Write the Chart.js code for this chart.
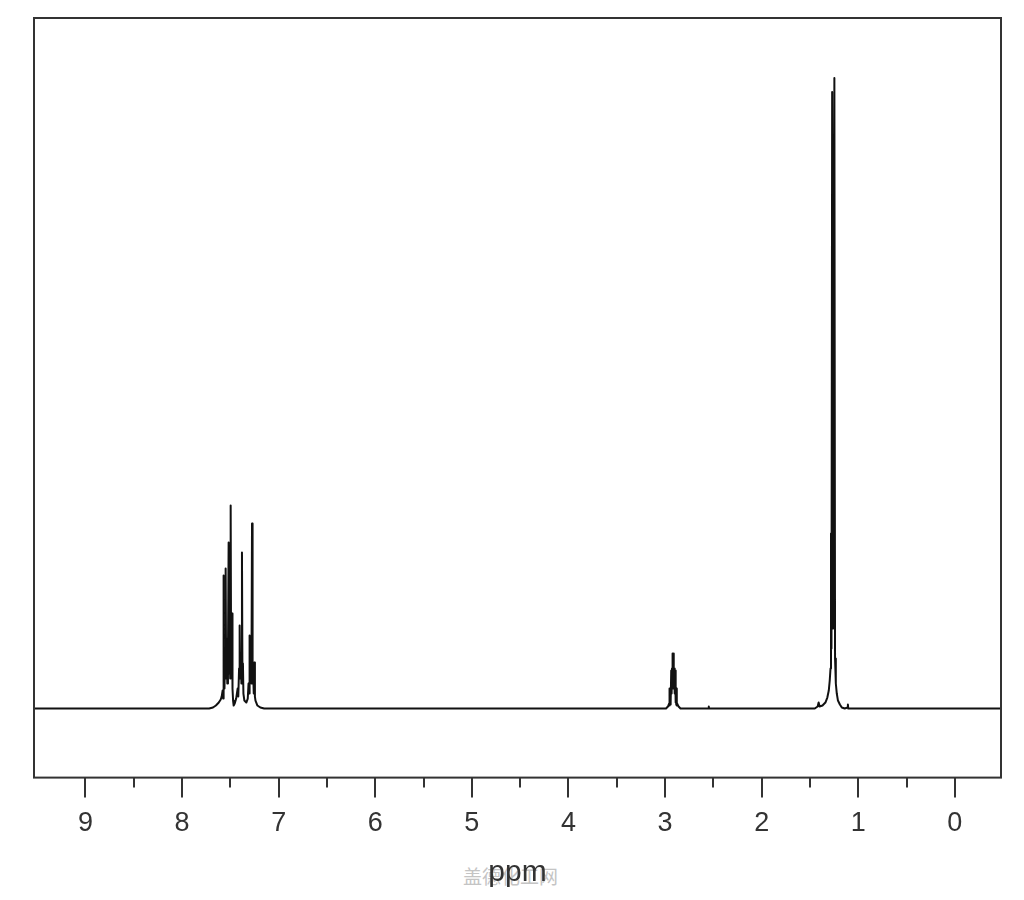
<!DOCTYPE html>
<html>
<head>
<meta charset="utf-8">
<title>1H NMR spectrum</title>
<script src="https://cdn.jsdelivr.net/npm/chart.js@4"></script>
<style>
    body { margin: 0; background: #fff; }
    #wrap { position: relative; width: 1024px; height: 900px; }
    #wrap canvas { position: relative; z-index: 1; }
    #mark {
        position: absolute; left: 463px; top: 862px; z-index: 0;
        font: 19px "Noto Sans CJK SC", sans-serif; color: #c4c4c4;
    }
</style>
</head>
<body>
<div id="wrap">
    <div id="mark">盖德化工网</div>
    <canvas id="nmr"></canvas>
</div>
<script>
// spectrum trace: chemical shift (ppm) and intensity (baseline = 0)
// aromatic multiplets, 7.7 - 7.15 ppm
const aromaticShift = [
    9.6, 7.72, 7.68, 7.65, 7.62, 7.60, 7.59, 7.580, 7.575, 7.572, 7.568, 7.565, 7.561, 7.555,
    7.549, 7.544, 7.538, 7.532, 7.525, 7.518, 7.513, 7.507, 7.502, 7.497, 7.492, 7.487, 7.483,
    7.478, 7.472, 7.466, 7.455, 7.44, 7.425, 7.418, 7.410, 7.404, 7.398, 7.392, 7.386, 7.380,
    7.375, 7.370, 7.365, 7.355, 7.335, 7.32, 7.312, 7.305, 7.301, 7.295, 7.288, 7.282, 7.276,
    7.270, 7.264, 7.258, 7.252, 7.246, 7.240, 7.22, 7.19, 7.15
];
const aromaticInt = [
    0, 0, 1, 3, 6, 9, 12, 18, 10, 133, 25, 60, 20, 60,
    140, 30, 70, 25, 50, 166, 35, 60, 30, 203, 35, 55, 95,
    20, 8, 3, 5, 10, 20, 12, 40, 83, 30, 55, 25, 156,
    30, 45, 15, 8, 6, 10, 25, 15, 73, 30, 50, 25, 185,
    25, 35, 15, 46, 12, 8, 3, 1, 0
];
// septet near 2.9 ppm and a small blip at 2.55 ppm
const septetShift = [
    2.99, 2.97, 2.958, 2.955, 2.952, 2.948, 2.944, 2.940, 2.936, 2.932, 2.928, 2.924, 2.920,
    2.916, 2.912, 2.908, 2.904, 2.900, 2.896, 2.892, 2.888, 2.884, 2.880, 2.877, 2.874, 2.86,
    2.84, 2.55, 2.547, 2.544
];
const septetInt = [
    0, 2, 5, 3, 20, 4, 20, 6, 38, 15, 40, 20, 55,
    25, 55, 20, 40, 15, 38, 6, 20, 4, 20, 3, 5, 2,
    0, 0, 2, 0
];
// doublet near 1.26 ppm
const doubletShift = [
    1.45, 1.42, 1.410, 1.400, 1.37, 1.34, 1.32, 1.305, 1.295, 1.287, 1.282, 1.277, 1.270,
    1.259, 1.247, 1.240, 1.232, 1.222, 1.21, 1.19, 1.17, 1.14, 1.11, 1.107, 1.103, -0.6
];
const doubletInt = [
    0, 2, 6, 2, 3, 6, 11, 18, 28, 40, 175, 60, 616,
    80, 630, 50, 25, 15, 8, 4, 1, 0, 1, 4, 0, 0
];
const majorTicks = [9, 8, 7, 6, 5, 4, 3, 2, 1, 0];
const minorTicks = [8.5, 7.5, 6.5, 5.5, 4.5, 3.5, 2.5, 1.5, 0.5];

const shifts = aromaticShift.concat(septetShift, doubletShift);
const intensity = aromaticInt.concat(septetInt, doubletInt);

const ink = '#333';

// frame round the plot and the short half-ppm ticks
const framePlugin = {
    id: 'frame',
    afterDraw(chart) {
        const { ctx, chartArea: a } = chart;
        const xs = chart.scales.x;
        ctx.save();
        ctx.strokeStyle = ink;
        ctx.lineWidth = 2;
        ctx.strokeRect(a.left, a.top, a.right - a.left, a.bottom - a.top);
        ctx.beginPath();
        minorTicks.forEach(v => {
            const px = Math.round(xs.getPixelForValue(v));
            ctx.moveTo(px, a.bottom);
            ctx.lineTo(px, a.bottom + 10);
        });
        ctx.stroke();
        ctx.restore();
    }
};

new Chart(document.getElementById('nmr'), {
    type: 'scatter',
    data: {
        datasets: [{
            data: shifts.map((s, i) => ({ x: s, y: intensity[i] })),
            showLine: true,
            borderColor: '#111',
            borderWidth: 2,
            borderJoinStyle: 'round',
            pointRadius: 0,
            tension: 0
        }]
    },
    options: {
        responsive: true,
        maintainAspectRatio: false,
        animation: false,
        layout: { padding: { left: 34, right: 23, top: 18, bottom: 0 } },
        plugins: { legend: { display: false }, tooltip: { enabled: false } },
        scales: {
            x: {
                type: 'linear',
                reverse: true,
                min: -0.478,
                max: 9.533,
                afterBuildTicks: axis => {
                    axis.ticks = majorTicks.map(v => ({ value: v }));
                },
                ticks: {
                    autoSkip: false,
                    maxRotation: 0,
                    padding: 10,
                    color: ink,
                    font: { family: 'Liberation Sans', size: 27 }
                },
                grid: {
                    drawOnChartArea: false,
                    tickLength: 20,
                    tickColor: ink,
                    lineWidth: 2
                },
                border: { display: false },
                title: {
                    display: true,
                    text: 'ppm',
                    color: ink,
                    font: { family: 'Liberation Sans', size: 30 },
                    padding: { top: 5, bottom: 9 }
                }
            },
            y: {
                display: false,
                min: -69,
                max: 690
            }
        }
    },
    plugins: [framePlugin]
});
</script>
</body>
</html>
